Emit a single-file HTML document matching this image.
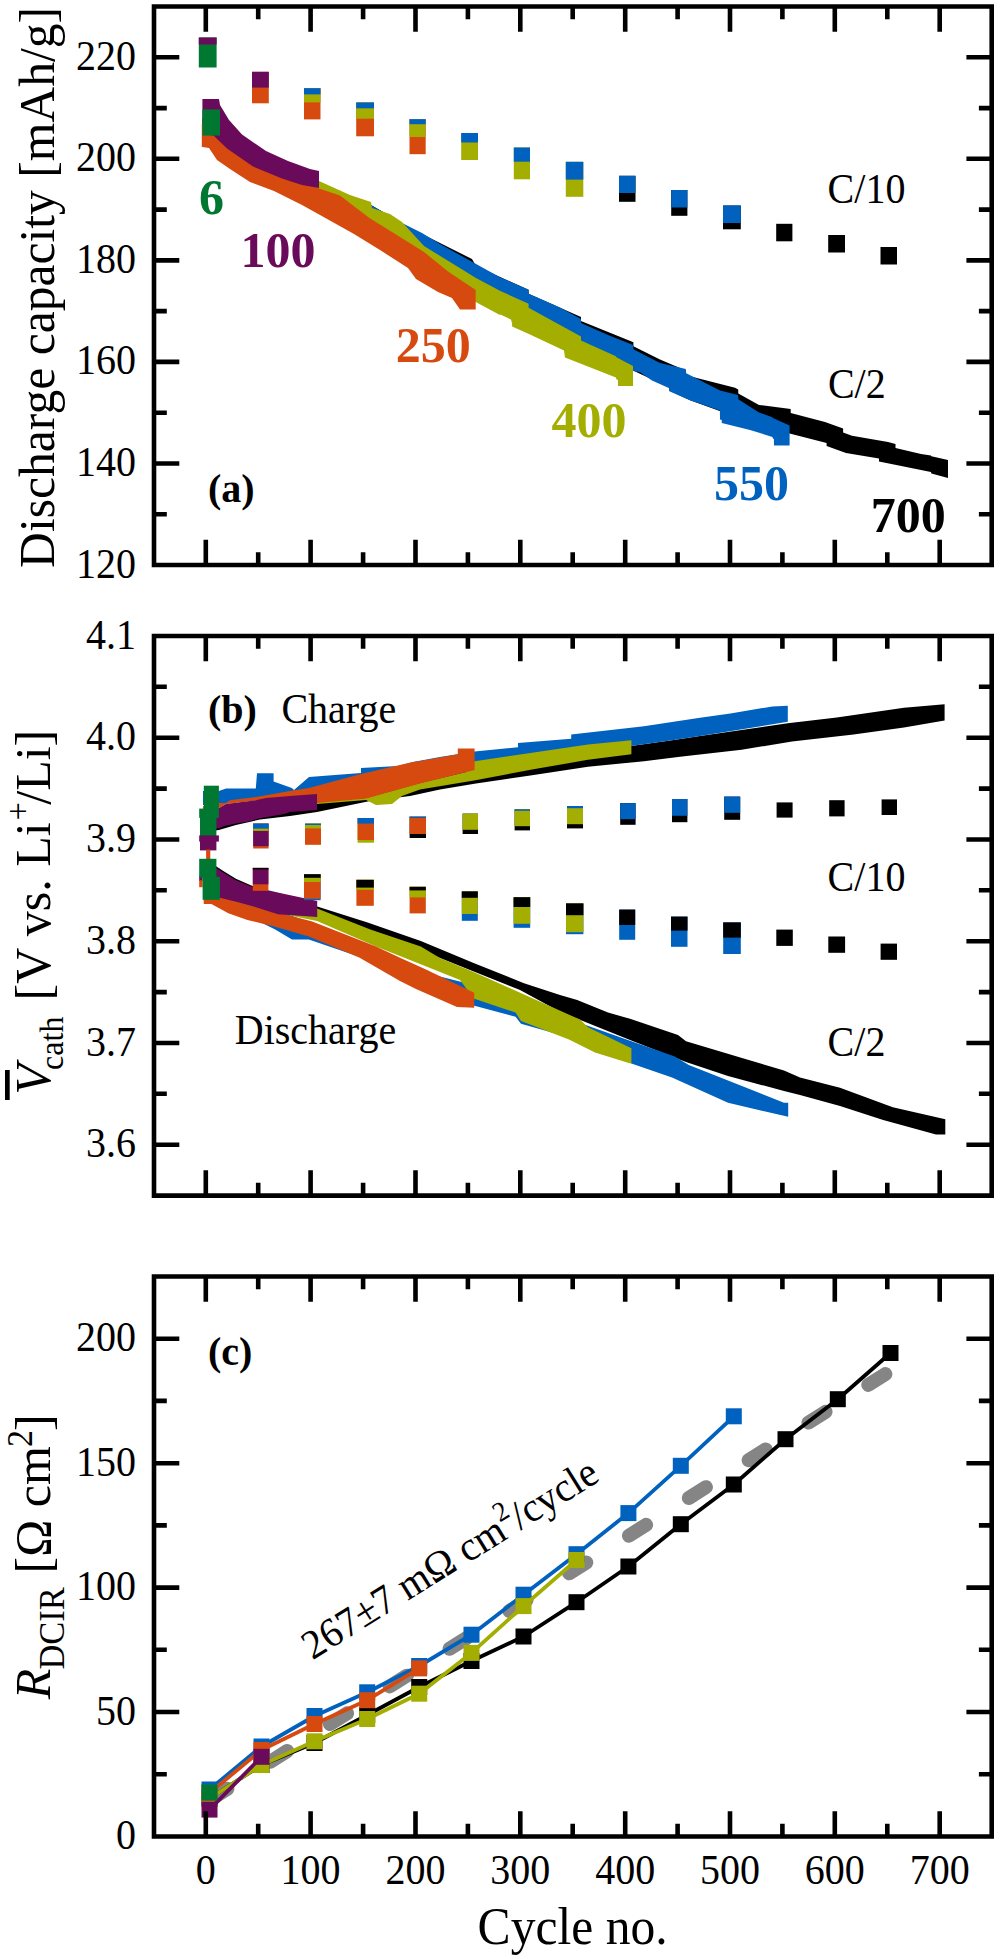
<!DOCTYPE html><html><head><meta charset="utf-8"><style>html,body{margin:0;padding:0;background:#fff;}svg{display:block;font-family:"Liberation Serif",serif;}</style></head><body><svg width="1000" height="1959" viewBox="0 0 1000 1959" font-family="'Liberation Serif', serif"><rect width="1000" height="1959" fill="#fff"/><path d="M202.4 118.0L250.0 158.0L290.0 172.0L319.0 183.0L350.0 197.0L371.0 205.0L390.0 216.0L402.0 224.0L472.0 259.0L476.0 266.0L528.6 289.8L528.6 293.8L581.0 317.0L581.0 321.0L633.4 342.2L633.4 346.2L660.0 359.5L685.8 370.4L685.8 374.4L690.0 376.2L735.0 387.7L738.2 389.5L738.3 393.5L759.0 404.9L790.7 409.1L790.7 413.1L825.0 421.9L843.1 428.5L843.1 432.5L852.0 435.8L888.0 442.1L895.5 443.9L895.5 447.9L921.0 454.1L930.9 455.5L931.4 456.3L948.0 460.0L948.0 478.0L931.4 473.5L930.9 471.9L879.0 461.6L879.0 458.6L846.0 452.9L826.6 446.1L826.6 443.1L789.6 433.6L774.2 431.4L774.2 428.4L750.0 424.9L721.8 414.7L721.7 411.7L690.0 400.3L669.3 390.6L669.3 387.6L633.0 370.6L616.9 367.9L616.9 364.9L580.0 358.6L564.5 351.0L564.5 348.0L512.1 321.9L512.1 318.9L500.4 312.7L499.9 313.3L460.0 290.0L354.0 225.0L302.0 198.0L250.0 175.0L202.4 140.0Z" fill="#000000"/><path d="M202.4 118.0L250.0 158.0L290.0 172.0L319.0 183.0L350.0 197.0L371.0 205.0L402.0 223.0L422.0 233.0L440.0 244.0L500.0 277.2L528.6 289.8L528.6 293.8L560.0 307.6L581.0 319.0L581.0 323.0L608.0 334.9L633.0 345.0L633.4 345.2L633.4 349.2L660.0 363.0L685.8 369.1L685.8 373.1L720.0 390.4L738.0 395.0L738.3 399.2L759.0 412.4L772.4 417.3L772.9 418.1L789.6 425.5L789.6 445.6L774.0 445.6L773.9 439.0L772.9 438.6L772.4 437.0L750.0 429.9L721.8 423.0L721.7 420.0L720.0 419.6L719.9 410.6L690.0 400.3L669.3 391.2L669.3 388.2L652.0 380.5L640.0 372.2L616.9 367.9L616.9 364.9L580.0 358.6L564.5 351.0L564.5 348.0L512.1 321.9L512.1 318.9L500.4 312.7L499.9 313.3L460.0 290.0L354.0 225.0L302.0 198.0L250.0 175.0L202.4 140.0Z" fill="#0062be"/><path d="M202.4 118.0L250.0 158.0L290.0 172.0L319.0 181.0L350.0 195.0L371.0 202.0L372.0 208.0L390.0 214.0L402.0 222.0L424.0 246.0L476.0 278.0L500.4 291.0L528.6 303.8L528.6 307.8L581.0 336.5L581.0 340.5L615.9 356.3L616.4 357.2L633.0 366.0L633.0 386.0L618.0 386.0L617.9 380.0L616.4 379.3L615.9 377.6L565.0 357.5L564.0 350.5L530.0 334.5L512.1 326.5L512.1 323.5L511.0 319.6L500.4 314.4L499.9 314.9L475.7 302.0L460.0 290.0L354.0 225.0L302.0 198.0L250.0 175.0L202.4 140.0Z" fill="#a3ae00"/><path d="M202.4 124.0L214.0 128.0L227.0 140.0L253.0 158.0L282.0 172.0L302.0 180.0L319.0 188.5L340.0 195.5L369.0 217.8L396.0 234.4L424.0 252.0L448.0 271.6L475.7 290.0L475.7 309.5L460.0 309.5L452.0 298.0L438.0 292.0L416.0 279.0L408.0 268.0L380.0 250.0L354.0 234.0L320.0 215.0L302.0 205.0L274.0 191.0L250.0 182.0L230.0 169.0L217.0 160.0L209.0 148.0L202.6 147.0Z" fill="#d64a10"/><path d="M202.4 99.0L219.0 99.0L220.0 105.0L229.0 120.0L242.0 134.5L266.0 151.0L288.0 161.0L310.0 169.0L319.0 171.0L319.0 188.0L302.0 185.0L282.0 178.5L253.0 166.5L227.0 148.5L214.0 136.0L202.4 132.0Z" fill="#6a0a5a"/><rect x="201.8" y="124" width="4.2" height="23.0" fill="#d64a10"/><rect x="202.4" y="109.4" width="17.6" height="26.2" fill="#007832"/><rect x="198.8" y="37.5" width="17.8" height="30.0" fill="#007832"/><rect x="198.8" y="37.5" width="17.8" height="7.0" fill="#6a0a5a"/><rect x="252.0" y="71.8" width="16.8" height="31.5" fill="#d64a10"/><rect x="252.0" y="71.8" width="16.8" height="15.8" fill="#6a0a5a"/><rect x="304.0" y="88.2" width="16.5" height="31.2" fill="#d64a10"/><rect x="304.0" y="88.2" width="16.5" height="14.2" fill="#a3ae00"/><rect x="304.0" y="88.2" width="16.5" height="6.2" fill="#0062be"/><rect x="356.2" y="102.5" width="17.8" height="33.8" fill="#d64a10"/><rect x="356.2" y="102.5" width="17.8" height="16.2" fill="#a3ae00"/><rect x="356.2" y="102.5" width="17.8" height="5.8" fill="#0062be"/><rect x="409.5" y="119.2" width="16.2" height="35.0" fill="#d64a10"/><rect x="409.5" y="119.2" width="16.2" height="17.8" fill="#a3ae00"/><rect x="409.5" y="119.2" width="16.2" height="5.0" fill="#0062be"/><rect x="461.2" y="133.0" width="16.8" height="27.0" fill="#a3ae00"/><rect x="461.2" y="133.0" width="16.8" height="9.5" fill="#0062be"/><rect x="513.8" y="147.5" width="16.2" height="31.8" fill="#a3ae00"/><rect x="513.8" y="147.5" width="16.2" height="14.2" fill="#0062be"/><rect x="565.8" y="161.8" width="17.5" height="35.0" fill="#a3ae00"/><rect x="565.8" y="161.8" width="17.5" height="17.8" fill="#0062be"/><rect x="619.0" y="175.8" width="16.5" height="26.0" fill="#000000"/><rect x="619.0" y="175.8" width="16.5" height="17.2" fill="#0062be"/><rect x="671.2" y="190.0" width="16.2" height="25.8" fill="#000000"/><rect x="671.2" y="190.0" width="16.2" height="17.5" fill="#0062be"/><rect x="723.0" y="205.5" width="17.8" height="23.8" fill="#000000"/><rect x="723.0" y="205.5" width="17.8" height="17.5" fill="#0062be"/><rect x="776.2" y="223.8" width="16.2" height="17.5" fill="#000000"/><rect x="828.2" y="235.0" width="16.8" height="17.5" fill="#000000"/><rect x="880.5" y="247.0" width="16.5" height="17.5" fill="#000000"/><path d="M203.0 812.0L260.0 804.0L316.0 795.0L362.0 786.0L420.0 775.0L476.0 765.0L532.0 756.0L588.0 748.0L632.8 745.8L672.0 740.2L700.0 736.0L787.8 723.2L836.8 717.6L904.0 707.8L944.6 704.2L944.6 720.4L904.0 727.4L853.6 734.4L792.0 741.4L741.6 749.8L680.0 756.8L644.0 761.2L588.0 766.8L532.0 775.2L476.0 783.5L440.0 789.5L410.0 796.0L370.0 801.0L317.0 812.0L290.0 816.0L260.0 819.5L235.9 825.0L218.9 830.0L203.0 832.0Z" fill="#000000"/><path d="M203.0 791.0L218.9 791.0L226.0 788.4L255.8 788.4L257.0 773.3L273.6 773.3L273.6 781.6L291.8 788.0L294.0 790.0L309.0 777.0L361.0 773.0L361.0 768.0L398.0 766.0L413.0 762.0L440.0 757.0L474.6 751.4L518.0 747.2L518.0 743.0L571.2 738.8L571.2 734.6L644.0 726.2L672.0 722.0L700.0 717.8L730.4 713.4L772.4 706.4L787.8 705.8L787.8 721.8L700.0 736.0L672.0 740.2L632.8 745.8L588.0 750.0L532.0 756.0L476.0 763.0L420.0 772.0L362.0 784.0L310.0 792.0L260.0 800.0L203.0 805.0Z" fill="#0062be"/><path d="M203.0 815.0L260.0 808.0L317.0 802.0L366.0 798.0L420.0 783.0L466.0 772.0L474.6 761.2L532.0 752.8L588.0 744.4L631.4 740.2L631.4 754.2L588.0 759.8L532.0 769.6L474.0 780.5L420.0 789.5L402.0 796.0L392.0 804.0L376.0 805.0L366.0 800.0L317.0 804.0L260.0 812.0L203.0 818.0Z" fill="#a3ae00"/><path d="M203.0 806.0L219.9 802.9L226.0 802.9L229.8 800.2L256.0 797.0L290.0 791.0L309.0 788.0L361.0 774.0L413.0 762.0L420.0 761.0L457.8 754.2L457.8 748.6L474.6 748.6L474.6 770.0L420.0 783.5L366.0 798.5L317.0 803.0L256.0 800.2L226.0 804.0L219.9 807.5L203.0 812.0Z" fill="#d64a10"/><path d="M203.0 815.0L219.9 807.5L226.0 804.0L255.8 800.2L266.0 798.0L290.0 796.0L317.0 794.0L317.0 810.0L290.0 812.0L284.0 814.0L260.0 818.2L247.4 821.7L235.9 823.6L224.5 825.9L218.9 828.2L203.0 830.0Z" fill="#6a0a5a"/><path d="M203.0 862.0L216.4 866.5L224.5 871.8L235.9 878.7L251.3 885.6L317.2 906.5L367.6 922.6L420.8 941.0L440.0 949.0L473.6 963.0L524.0 983.2L560.0 995.0L577.2 1000.0L608.0 1012.6L630.0 1018.8L678.0 1035.0L686.0 1041.2L742.0 1058.0L784.0 1070.6L800.0 1077.6L840.0 1087.7L892.8 1107.2L945.3 1119.2L945.3 1134.4L936.0 1134.4L883.2 1120.0L840.0 1106.0L800.0 1095.0L784.0 1091.0L728.0 1076.0L686.0 1062.0L630.0 1040.0L560.0 1011.8L520.0 990.0L470.0 970.0L420.0 950.0L370.0 935.0L317.0 917.0L203.0 898.0Z" fill="#000000"/><path d="M203.0 884.0L317.2 925.0L376.0 950.0L426.0 973.0L473.6 985.0L524.0 998.0L580.0 1023.0L631.4 1041.2L674.8 1056.6L688.8 1065.0L728.0 1080.4L784.0 1102.8L788.2 1102.8L788.2 1116.8L728.0 1102.8L672.0 1077.6L631.4 1063.6L566.0 1036.4L521.0 1023.8L515.6 1016.8L473.6 1005.6L460.0 1000.0L412.0 979.0L360.0 957.0L308.8 939.4L292.0 939.4L275.2 929.6L240.0 912.0L203.0 895.0Z" fill="#0062be"/><path d="M203.0 880.0L250.0 895.0L317.2 908.6L370.4 929.6L420.8 946.4L440.0 958.0L473.6 972.0L524.0 994.4L580.0 1019.6L588.0 1027.2L631.4 1048.2L631.4 1063.6L628.8 1063.0L595.0 1052.6L569.0 1039.6L521.0 1021.0L515.6 1012.6L473.6 998.6L460.0 980.0L432.0 968.8L376.0 946.4L317.0 921.0L203.0 898.0Z" fill="#a3ae00"/><path d="M203.0 880.0L219.9 896.3L235.9 901.7L255.0 907.0L311.6 921.2L376.0 946.4L400.0 957.7L426.0 969.4L474.2 992.8L474.2 1007.8L457.0 1007.0L416.0 989.0L400.0 981.0L359.2 957.6L308.8 936.6L275.2 926.8L247.4 920.0L228.3 913.2L211.4 904.0L203.8 904.0Z" fill="#d64a10"/><path d="M203.0 864.0L216.4 868.0L224.5 873.3L235.9 880.2L251.3 886.5L280.0 893.0L317.2 901.0L317.2 917.0L278.0 914.2L255.0 907.0L235.9 901.7L219.2 897.4L203.0 897.4Z" fill="#6a0a5a"/><rect x="203.8" y="785.7" width="15.1" height="23.7" fill="#007832"/><rect x="199.2" y="808.6" width="19.7" height="9.3" fill="#007832"/><rect x="200" y="817.1" width="16.4" height="19.1" fill="#007832"/><rect x="199.2" y="835.4" width="19.7" height="6.2" fill="#6a0a5a"/><rect x="200" y="840.8" width="16.4" height="9.6" fill="#6a0a5a"/><rect x="206.1" y="849.6" width="4.2" height="10.0" fill="#d64a10"/><rect x="199.2" y="875.6" width="3.4" height="5.4" fill="#6a0a5a"/><rect x="199.2" y="880.2" width="3.4" height="7.0" fill="#d64a10"/><rect x="199.2" y="858.8" width="17.2" height="18.8" fill="#007832"/><rect x="202.6" y="876.8" width="17.3" height="23.0" fill="#007832"/><rect x="253.2" y="823.6" width="15.4" height="24.9" fill="#d64a10"/><rect x="253.2" y="823.6" width="15.4" height="22.6" fill="#6a0a5a"/><rect x="253.2" y="823.6" width="15.4" height="7.3" fill="#a3ae00"/><rect x="253.2" y="823.6" width="15.4" height="5.0" fill="#0062be"/><rect x="305" y="823.6" width="16.0" height="21.2" fill="#d64a10"/><rect x="305" y="823.6" width="16.0" height="4.8" fill="#a3ae00"/><rect x="305" y="823.6" width="16.0" height="1.4" fill="#0062be"/><rect x="357.6" y="818" width="16.4" height="24.7" fill="#a3ae00"/><rect x="357.6" y="818" width="16.4" height="22.0" fill="#d64a10"/><rect x="357.6" y="818" width="16.4" height="5.6" fill="#0062be"/><rect x="409.6" y="816.7" width="16.4" height="21.3" fill="#000000"/><rect x="409.6" y="816.7" width="16.4" height="17.3" fill="#d64a10"/><rect x="409.6" y="816.7" width="16.4" height="1.3" fill="#0062be"/><rect x="462.6" y="813.6" width="15.4" height="20.4" fill="#000000"/><rect x="462.6" y="813.6" width="15.4" height="16.2" fill="#a3ae00"/><rect x="514.6" y="809.4" width="15.4" height="21.0" fill="#000000"/><rect x="514.6" y="809.4" width="15.4" height="16.8" fill="#a3ae00"/><rect x="514.6" y="809.4" width="15.4" height="1.4" fill="#0062be"/><rect x="567" y="806" width="16.0" height="22.4" fill="#000000"/><rect x="567" y="806" width="16.0" height="18.2" fill="#a3ae00"/><rect x="567" y="806" width="16.0" height="2.2" fill="#0062be"/><rect x="620.2" y="803.2" width="15.4" height="21.6" fill="#000000"/><rect x="620.2" y="803.2" width="15.4" height="16.0" fill="#0062be"/><rect x="672" y="799" width="15.4" height="23.2" fill="#000000"/><rect x="672" y="799" width="15.4" height="16.8" fill="#0062be"/><rect x="724.2" y="796.6" width="16.0" height="23.2" fill="#000000"/><rect x="724.2" y="796.6" width="16.0" height="16.2" fill="#0062be"/><rect x="776.6" y="802.4" width="16.0" height="15.2" fill="#000000"/><rect x="829.2" y="800.2" width="15.4" height="16.2" fill="#000000"/><rect x="881.6" y="799.4" width="15.4" height="15.6" fill="#000000"/><rect x="252.8" y="867.9" width="15.6" height="22.9" fill="#d64a10"/><rect x="252.8" y="867.9" width="15.6" height="16.4" fill="#6a0a5a"/><rect x="252.8" y="867.9" width="15.6" height="1.6" fill="#000000"/><rect x="304" y="874.2" width="16.6" height="26.0" fill="#0062be"/><rect x="304" y="874.2" width="16.6" height="24.6" fill="#d64a10"/><rect x="304" y="874.2" width="16.6" height="7.8" fill="#a3ae00"/><rect x="304" y="874.2" width="16.6" height="3.6" fill="#000000"/><rect x="356.4" y="879.8" width="17.4" height="26.0" fill="#d64a10"/><rect x="356.4" y="879.8" width="17.4" height="10.0" fill="#a3ae00"/><rect x="356.4" y="879.8" width="17.4" height="7.8" fill="#000000"/><rect x="409.6" y="886.8" width="16.2" height="26.6" fill="#d64a10"/><rect x="409.6" y="886.8" width="16.2" height="10.6" fill="#a3ae00"/><rect x="409.6" y="886.8" width="16.2" height="3.6" fill="#000000"/><rect x="461.8" y="891.4" width="16.0" height="29.4" fill="#0062be"/><rect x="461.8" y="891.4" width="16.0" height="22.6" fill="#a3ae00"/><rect x="461.8" y="891.4" width="16.0" height="6.4" fill="#000000"/><rect x="513.6" y="897.2" width="16.6" height="30.6" fill="#0062be"/><rect x="513.6" y="897.2" width="16.6" height="26.6" fill="#a3ae00"/><rect x="513.6" y="897.2" width="16.6" height="9.8" fill="#000000"/><rect x="566" y="903.4" width="17.4" height="30.8" fill="#0062be"/><rect x="566" y="903.4" width="17.4" height="28.8" fill="#a3ae00"/><rect x="566" y="903.4" width="17.4" height="11.8" fill="#000000"/><rect x="619.2" y="909.6" width="16.0" height="30.2" fill="#0062be"/><rect x="619.2" y="909.6" width="16.0" height="15.4" fill="#000000"/><rect x="671" y="916.6" width="16.5" height="30.2" fill="#0062be"/><rect x="671" y="916.6" width="16.5" height="14.0" fill="#000000"/><rect x="723.2" y="922.4" width="17.6" height="31.6" fill="#0062be"/><rect x="723.2" y="922.4" width="17.6" height="15.2" fill="#000000"/><rect x="776.3" y="929.6" width="16.5" height="16.3" fill="#000000"/><rect x="828.3" y="936.5" width="16.8" height="16.3" fill="#000000"/><rect x="880.6" y="943.6" width="16.4" height="16.2" fill="#000000"/><path d="M209.5 1800.0L893.0 1369.3" stroke="#858585" stroke-width="14" stroke-linecap="round" stroke-dasharray="20.2 50.5" stroke-dashoffset="-0.95" fill="none"/><path d="M209.5 1798.5L261.5 1765L314.5 1743L367.2 1715L419.2 1687L471.5 1661L523.5 1636.5L576.5 1602.2L628.4 1566.5L680.8 1524.2L733.8 1484.5L785.5 1439.2L837.8 1399.2L890.5 1353" stroke="#000000" stroke-width="3.8" fill="none" stroke-linejoin="round"/><rect x="201.5" y="1790.5" width="16" height="16" fill="#000000"/><rect x="253.5" y="1757.0" width="16" height="16" fill="#000000"/><rect x="306.5" y="1735.0" width="16" height="16" fill="#000000"/><rect x="359.2" y="1707.0" width="16" height="16" fill="#000000"/><rect x="411.2" y="1679.0" width="16" height="16" fill="#000000"/><rect x="463.5" y="1653.0" width="16" height="16" fill="#000000"/><rect x="515.5" y="1628.5" width="16" height="16" fill="#000000"/><rect x="568.5" y="1594.2" width="16" height="16" fill="#000000"/><rect x="620.4" y="1558.5" width="16" height="16" fill="#000000"/><rect x="672.8" y="1516.2" width="16" height="16" fill="#000000"/><rect x="725.8" y="1476.5" width="16" height="16" fill="#000000"/><rect x="777.5" y="1431.2" width="16" height="16" fill="#000000"/><rect x="829.8" y="1391.2" width="16" height="16" fill="#000000"/><rect x="882.5" y="1345.0" width="16" height="16" fill="#000000"/><path d="M209.5 1789.5L261.5 1746.5L314.5 1716L367.2 1692.3L419.2 1666L471.5 1634.7L523.5 1594.7L576.5 1554.2L628.4 1513.1L680.8 1465.8L733.8 1416.3" stroke="#0062be" stroke-width="3.8" fill="none" stroke-linejoin="round"/><rect x="201.5" y="1781.5" width="16" height="16" fill="#0062be"/><rect x="253.5" y="1738.5" width="16" height="16" fill="#0062be"/><rect x="306.5" y="1708.0" width="16" height="16" fill="#0062be"/><rect x="359.2" y="1684.3" width="16" height="16" fill="#0062be"/><rect x="411.2" y="1658.0" width="16" height="16" fill="#0062be"/><rect x="463.5" y="1626.7" width="16" height="16" fill="#0062be"/><rect x="515.5" y="1586.7" width="16" height="16" fill="#0062be"/><rect x="568.5" y="1546.2" width="16" height="16" fill="#0062be"/><rect x="620.4" y="1505.1" width="16" height="16" fill="#0062be"/><rect x="672.8" y="1457.8" width="16" height="16" fill="#0062be"/><rect x="725.8" y="1408.3" width="16" height="16" fill="#0062be"/><path d="M209.5 1798.5L261.5 1765L314.5 1741.3L367.2 1719L419.2 1693.7L471.5 1652.9L523.5 1606.1L576.5 1560" stroke="#a3ae00" stroke-width="3.8" fill="none" stroke-linejoin="round"/><rect x="201.5" y="1790.5" width="16" height="16" fill="#a3ae00"/><rect x="253.5" y="1757.0" width="16" height="16" fill="#a3ae00"/><rect x="306.5" y="1733.3" width="16" height="16" fill="#a3ae00"/><rect x="359.2" y="1711.0" width="16" height="16" fill="#a3ae00"/><rect x="411.2" y="1685.7" width="16" height="16" fill="#a3ae00"/><rect x="463.5" y="1644.9" width="16" height="16" fill="#a3ae00"/><rect x="515.5" y="1598.1" width="16" height="16" fill="#a3ae00"/><rect x="568.5" y="1552.0" width="16" height="16" fill="#a3ae00"/><path d="M209.5 1793L261.5 1750L314.5 1724L367.2 1700.2L419.2 1668.4" stroke="#d64a10" stroke-width="3.8" fill="none" stroke-linejoin="round"/><rect x="201.5" y="1785.0" width="16" height="16" fill="#d64a10"/><rect x="253.5" y="1742.0" width="16" height="16" fill="#d64a10"/><rect x="306.5" y="1716.0" width="16" height="16" fill="#d64a10"/><rect x="359.2" y="1692.2" width="16" height="16" fill="#d64a10"/><rect x="411.2" y="1660.4" width="16" height="16" fill="#d64a10"/><path d="M209.5 1809.6L261.5 1756.8" stroke="#6a0a5a" stroke-width="3.8" fill="none" stroke-linejoin="round"/><rect x="201.5" y="1801.6" width="16" height="16" fill="#6a0a5a"/><rect x="253.5" y="1748.8" width="16" height="16" fill="#6a0a5a"/><rect x="201.5" y="1784.5" width="16" height="16" fill="#007832"/><path d="M154 6.5H991.7V565H154ZM205.8 565v-25.3M205.8 6.5v25.3M310.6 565v-25.3M310.6 6.5v25.3M415.5 565v-25.3M415.5 6.5v25.3M520.3 565v-25.3M520.3 6.5v25.3M625.2 565v-25.3M625.2 6.5v25.3M730 565v-25.3M730 6.5v25.3M834.8 565v-25.3M834.8 6.5v25.3M939.7 565v-25.3M939.7 6.5v25.3M258.2 565v-12.8M258.2 6.5v12.8M363.1 565v-12.8M363.1 6.5v12.8M467.9 565v-12.8M467.9 6.5v12.8M572.7 565v-12.8M572.7 6.5v12.8M677.6 565v-12.8M677.6 6.5v12.8M782.4 565v-12.8M782.4 6.5v12.8M887.3 565v-12.8M887.3 6.5v12.8M154 565h25.3M991.7 565h-25.3M154 463.5h25.3M991.7 463.5h-25.3M154 361.9h25.3M991.7 361.9h-25.3M154 260.4h25.3M991.7 260.4h-25.3M154 158.8h25.3M991.7 158.8h-25.3M154 57.3h25.3M991.7 57.3h-25.3M154 514.2h12.8M991.7 514.2h-12.8M154 412.7h12.8M991.7 412.7h-12.8M154 311.1h12.8M991.7 311.1h-12.8M154 209.6h12.8M991.7 209.6h-12.8M154 108.1h12.8M991.7 108.1h-12.8M154 636H991.7V1195.6H154ZM205.8 1195.6v-25.3M205.8 636v25.3M310.6 1195.6v-25.3M310.6 636v25.3M415.5 1195.6v-25.3M415.5 636v25.3M520.3 1195.6v-25.3M520.3 636v25.3M625.2 1195.6v-25.3M625.2 636v25.3M730 1195.6v-25.3M730 636v25.3M834.8 1195.6v-25.3M834.8 636v25.3M939.7 1195.6v-25.3M939.7 636v25.3M258.2 1195.6v-12.8M258.2 636v12.8M363.1 1195.6v-12.8M363.1 636v12.8M467.9 1195.6v-12.8M467.9 636v12.8M572.7 1195.6v-12.8M572.7 636v12.8M677.6 1195.6v-12.8M677.6 636v12.8M782.4 1195.6v-12.8M782.4 636v12.8M887.3 1195.6v-12.8M887.3 636v12.8M154 1144.7h25.3M991.7 1144.7h-25.3M154 1043h25.3M991.7 1043h-25.3M154 941.2h25.3M991.7 941.2h-25.3M154 839.5h25.3M991.7 839.5h-25.3M154 737.7h25.3M991.7 737.7h-25.3M154 636h25.3M991.7 636h-25.3M154 1093.8h12.8M991.7 1093.8h-12.8M154 992.1h12.8M991.7 992.1h-12.8M154 890.3h12.8M991.7 890.3h-12.8M154 788.6h12.8M991.7 788.6h-12.8M154 686.8h12.8M991.7 686.8h-12.8M154 1276.5H991.7V1836.5H154ZM205.8 1836.5v-25.3M205.8 1276.5v25.3M310.6 1836.5v-25.3M310.6 1276.5v25.3M415.5 1836.5v-25.3M415.5 1276.5v25.3M520.3 1836.5v-25.3M520.3 1276.5v25.3M625.2 1836.5v-25.3M625.2 1276.5v25.3M730 1836.5v-25.3M730 1276.5v25.3M834.8 1836.5v-25.3M834.8 1276.5v25.3M939.7 1836.5v-25.3M939.7 1276.5v25.3M258.2 1836.5v-12.8M258.2 1276.5v12.8M363.1 1836.5v-12.8M363.1 1276.5v12.8M467.9 1836.5v-12.8M467.9 1276.5v12.8M572.7 1836.5v-12.8M572.7 1276.5v12.8M677.6 1836.5v-12.8M677.6 1276.5v12.8M782.4 1836.5v-12.8M782.4 1276.5v12.8M887.3 1836.5v-12.8M887.3 1276.5v12.8M154 1836.5h25.3M991.7 1836.5h-25.3M154 1712h25.3M991.7 1712h-25.3M154 1587.6h25.3M991.7 1587.6h-25.3M154 1463.2h25.3M991.7 1463.2h-25.3M154 1338.7h25.3M991.7 1338.7h-25.3M154 1774.3h12.8M991.7 1774.3h-12.8M154 1649.8h12.8M991.7 1649.8h-12.8M154 1525.4h12.8M991.7 1525.4h-12.8M154 1400.9h12.8M991.7 1400.9h-12.8M154 1276.5h12.8M991.7 1276.5h-12.8" fill="none" stroke="#000" stroke-width="4.6" stroke-linecap="butt" stroke-linejoin="miter"/><text transform="translate(136 577.5) scale(1 1.03)" font-size="40" text-anchor="end">120</text><text transform="translate(136 476) scale(1 1.03)" font-size="40" text-anchor="end">140</text><text transform="translate(136 374.4) scale(1 1.03)" font-size="40" text-anchor="end">160</text><text transform="translate(136 272.9) scale(1 1.03)" font-size="40" text-anchor="end">180</text><text transform="translate(136 171.3) scale(1 1.03)" font-size="40" text-anchor="end">200</text><text transform="translate(136 69.8) scale(1 1.03)" font-size="40" text-anchor="end">220</text><text transform="translate(136 1157.2) scale(1 1.03)" font-size="40" text-anchor="end">3.6</text><text transform="translate(136 1055.5) scale(1 1.03)" font-size="40" text-anchor="end">3.7</text><text transform="translate(136 953.7) scale(1 1.03)" font-size="40" text-anchor="end">3.8</text><text transform="translate(136 852) scale(1 1.03)" font-size="40" text-anchor="end">3.9</text><text transform="translate(136 750.2) scale(1 1.03)" font-size="40" text-anchor="end">4.0</text><text transform="translate(136 648.5) scale(1 1.03)" font-size="40" text-anchor="end">4.1</text><text transform="translate(136 1849) scale(1 1.03)" font-size="40" text-anchor="end">0</text><text transform="translate(136 1724.5) scale(1 1.03)" font-size="40" text-anchor="end">50</text><text transform="translate(136 1600.1) scale(1 1.03)" font-size="40" text-anchor="end">100</text><text transform="translate(136 1475.7) scale(1 1.03)" font-size="40" text-anchor="end">150</text><text transform="translate(136 1351.2) scale(1 1.03)" font-size="40" text-anchor="end">200</text><text transform="translate(205.8 1884.2) scale(1 1.03)" font-size="40" text-anchor="middle">0</text><text transform="translate(310.6 1884.2) scale(1 1.03)" font-size="40" text-anchor="middle">100</text><text transform="translate(415.5 1884.2) scale(1 1.03)" font-size="40" text-anchor="middle">200</text><text transform="translate(520.3 1884.2) scale(1 1.03)" font-size="40" text-anchor="middle">300</text><text transform="translate(625.2 1884.2) scale(1 1.03)" font-size="40" text-anchor="middle">400</text><text transform="translate(730 1884.2) scale(1 1.03)" font-size="40" text-anchor="middle">500</text><text transform="translate(834.8 1884.2) scale(1 1.03)" font-size="40" text-anchor="middle">600</text><text transform="translate(939.7 1884.2) scale(1 1.03)" font-size="40" text-anchor="middle">700</text><text transform="translate(477.6 1943.6) scale(1 1.045)" font-size="49.6">Cycle no.</text><text transform="translate(53.6 567.9) rotate(-90) scale(1 1.04)" font-size="49.6">Discharge capacity [mAh/g]</text><text transform="translate(50 1094.5) rotate(-90) scale(1 1.03)" font-size="50" font-style="italic">V</text><rect x="5" y="1070" width="4.7" height="30" fill="#000"/><text transform="translate(62.9 1069.9) rotate(-90) scale(1 1.03)" font-size="32">cath</text><text transform="translate(50 1000.5) rotate(-90) scale(1 1.03)" font-size="50">[V vs. Li</text><text transform="translate(28.9 820.2) rotate(-90) scale(1 1.03)" font-size="32">+</text><text transform="translate(50 804.7) rotate(-90) scale(1 1.03)" font-size="50">/Li]</text><text transform="translate(50.2 1699.3) rotate(-90) scale(1 1.03)" font-size="50" font-style="italic">R</text><text transform="translate(63.7 1669.6) rotate(-90) scale(1 1.03)" font-size="34.5">DCIR</text><text transform="translate(50.2 1573.5) rotate(-90) scale(1 1.03)" font-size="50">[Ω cm</text><text transform="translate(31.9 1447) rotate(-90) scale(1 1.03)" font-size="34">2</text><text transform="translate(50.2 1431) rotate(-90) scale(1 1.03)" font-size="50">]</text><text transform="translate(827.6 203) scale(1 1.03)" font-size="40">C/10</text><text transform="translate(827.9 397.6) scale(1 1.03)" font-size="40">C/2</text><text transform="translate(827.6 891.4) scale(1 1.03)" font-size="40">C/10</text><text transform="translate(827.6 1056.4) scale(1 1.03)" font-size="40">C/2</text><text transform="translate(281.4 723) scale(1 1.03)" font-size="40">Charge</text><text transform="translate(234.8 1043.6) scale(1 1.03)" font-size="40">Discharge</text><text transform="translate(207.9 501.5) scale(1 1.0)" font-size="40" font-weight="bold">(a)</text><text transform="translate(207.9 723) scale(1 1.0)" font-size="40" font-weight="bold">(b)</text><text transform="translate(207.9 1365) scale(1 1.0)" font-size="40" font-weight="bold">(c)</text><text transform="translate(199 213.7) scale(1 1.0)" font-size="50" font-weight="bold" fill="#007832">6</text><text transform="translate(240.6 267.3) scale(1 1.0)" font-size="50" font-weight="bold" fill="#6a0a5a">100</text><text transform="translate(395.7 362.1) scale(1 1.0)" font-size="50" font-weight="bold" fill="#d64a10">250</text><text transform="translate(551.6 437) scale(1 1.0)" font-size="50" font-weight="bold" fill="#a3ae00">400</text><text transform="translate(714.1 500) scale(1 1.0)" font-size="50" font-weight="bold" fill="#0062be">550</text><text transform="translate(870.7 531.9) scale(1 1.0)" font-size="50" font-weight="bold" fill="#000">700</text><text transform="translate(312.6 1660.4) rotate(-32) scale(1 1.03)" font-size="40">267±7 mΩ cm<tspan font-size="27" dy="-17">2</tspan><tspan dy="17">/cycle</tspan></text></svg></body></html>
